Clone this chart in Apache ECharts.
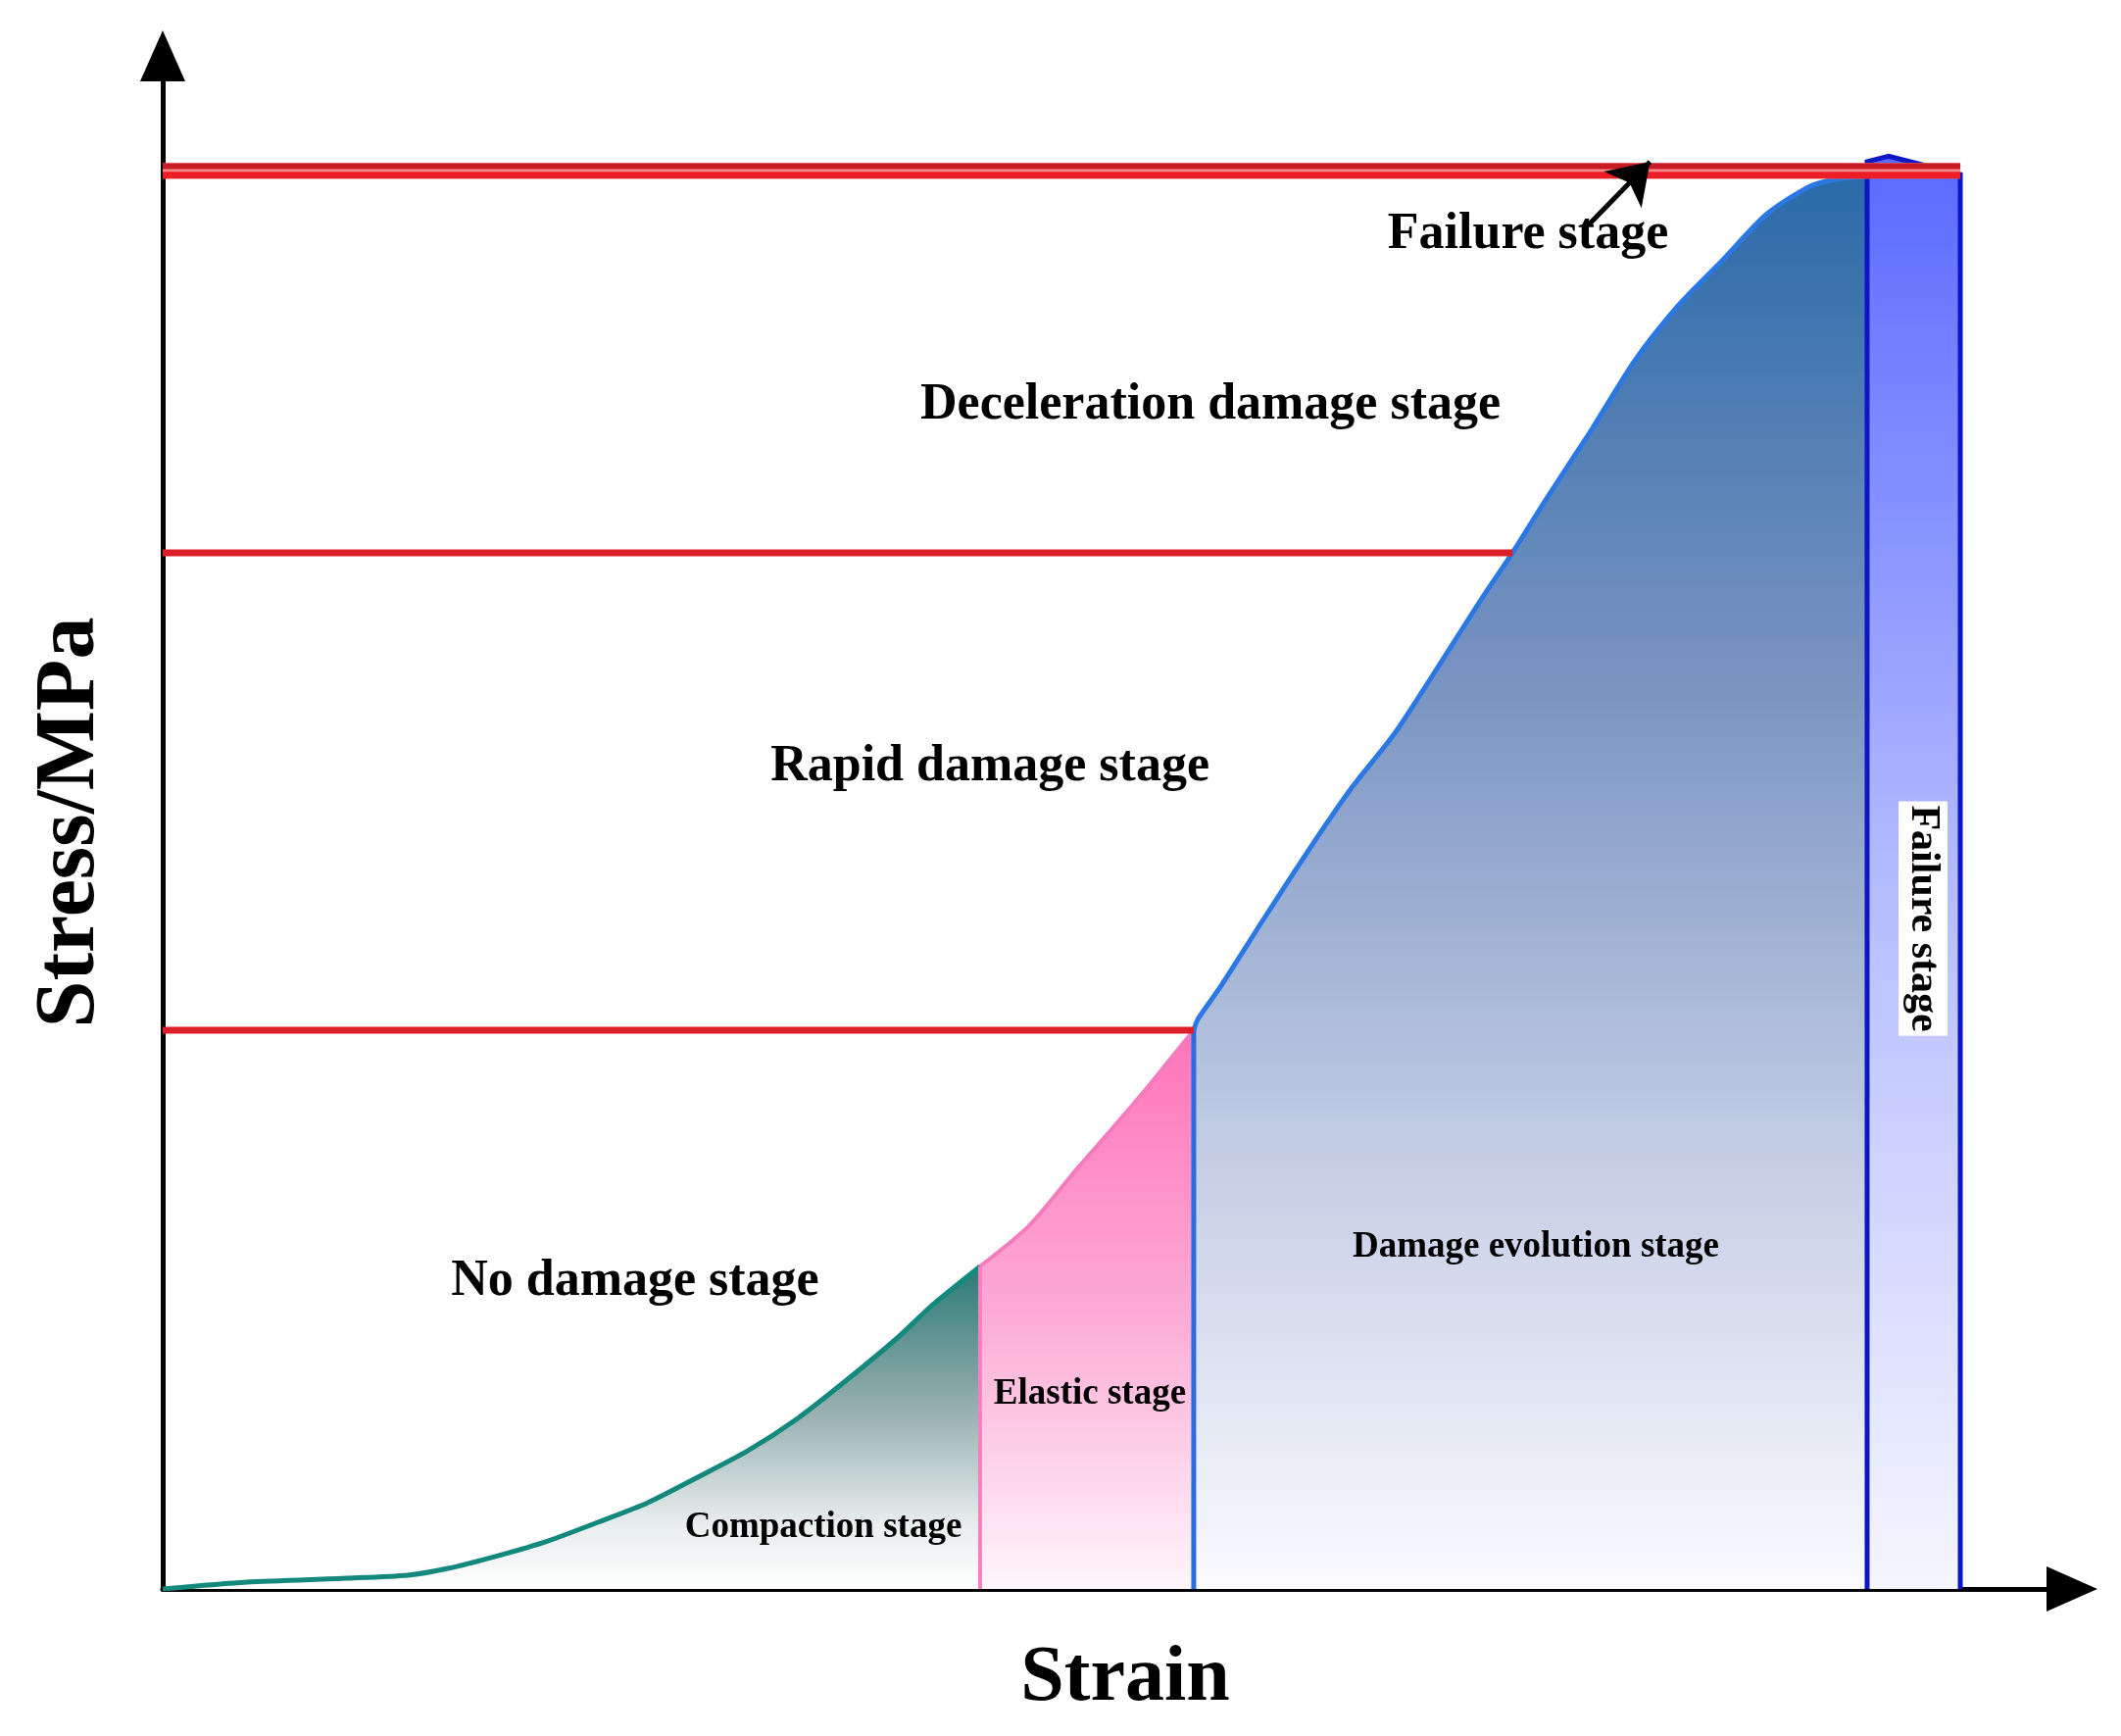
<!DOCTYPE html>
<html>
<head>
<meta charset="utf-8">
<script src="https://cdn.jsdelivr.net/npm/echarts@6/dist/echarts.min.js"></script>
<style>
html,body{margin:0;padding:0;background:#fff;}
#chart{width:2164px;height:1771px;}
</style>
</head>
<body>
<div id="chart"></div>
<script>
// ---- data (arbitrary normalised units: strain 0-100, stress 0-100) ----
const compactionCurve = [
  [0, 0], [4.41, 0.45], [9.65, 0.70], [12.83, 0.90], [14.94, 1.34], [17.56, 2.17],
  [20.17, 3.13], [22.79, 4.35], [25.41, 5.63], [28.03, 7.29], [30.65, 9.02],
  [33.26, 11.13], [35.88, 13.68], [38.50, 16.40], [40.30, 18.50], [42.81, 21.04]
];
const elasticCurve = [
  [42.81, 21.04], [45.38, 23.70], [47.95, 27.50], [49.64, 29.90], [51.39, 32.45],
  [52.57, 34.25], [54.00, 36.45]
];
const damageCurve = [
  [54.00, 36.45], [54.21, 37.15], [55.39, 39.26], [57.65, 43.67], [59.96, 48.08],
  [62.22, 52.17], [64.53, 55.82], [66.84, 60.23], [69.10, 64.64], [70.69, 67.58],
  [72.54, 71.23], [74.85, 75.64], [77.10, 80.12], [79.41, 83.76], [81.72, 86.70],
  [83.98, 89.64], [86.29, 91.50], [87.89, 92.01], [89.27, 92.14]
];
const failureBlock = [
  [89.27, 0], [89.27, 93.10], [90.40, 93.45], [94.15, 92.26], [94.15, 0]
];
const redLevels = [92.50, 67.58, 36.45];
const redEnds = [94.15, 70.69, 54.00];
const arrowFrom = [74.70, 89.00];
const arrowTo = [77.90, 93.10];
const stageLabels = [
  { text: 'Failure stage', pos: [71.51, 88.30], size: 52, rotate: 0, boxed: false },
  { text: 'Deceleration damage stage', pos: [54.88, 77.17], size: 52, rotate: 0, boxed: false },
  { text: 'Rapid damage stage', pos: [43.33, 53.58], size: 52, rotate: 0, boxed: false },
  { text: 'No damage stage', pos: [24.74, 20.01], size: 52, rotate: 0, boxed: false },
  { text: 'Compaction stage', pos: [34.60, 4.03], size: 37, rotate: 0, boxed: false },
  { text: 'Elastic stage', pos: [48.56, 12.72], size: 37, rotate: 0, boxed: false },
  { text: 'Damage evolution stage', pos: [71.92, 22.31], size: 37, rotate: 0, boxed: false },
  { text: 'Failure stage', pos: [92.20, 43.73], size: 42, rotate: -90, boxed: true }
];
const xName = 'Strain';
const yName = 'Stress/MPa';

// ---- chart ----
const FONT = '"Liberation Serif", "Times New Roman", serif';
const chart = echarts.init(document.getElementById('chart'), null, { renderer: 'canvas' });

function grad(stops) {
  return new echarts.graphic.LinearGradient(0, 0, 0, 1,
    stops.map(s => ({ offset: s[0], color: s[1] })));
}

function areaSeries(name, data, lineColor, lineWidth, stops) {
  return {
    name, type: 'line', data, showSymbol: false, smooth: 0.25, z: 3,
    lineStyle: { color: lineColor, width: lineWidth },
    areaStyle: { color: grad(stops), opacity: 1 }
  };
}

function plainLine(name, data, color, width, z) {
  return {
    name, type: 'line', data, showSymbol: false, z: z || 4,
    lineStyle: { color, width, cap: 'butt' }
  };
}

const series = [];
series.push(areaSeries('compaction', compactionCurve, '#13887c', 5,
  [[0, '#2b7a76'], [0.45, '#98b0b0'], [0.8, '#e8eded'], [1, '#ffffff']]));
series.push(areaSeries('elastic', elasticCurve, '#f47cbd', 4,
  [[0, '#ff74bb'], [0.5, '#fcaad5'], [1, '#fff6fb']]));
series.push(areaSeries('damage', damageCurve, '#2b78e4', 5,
  [[0, '#2a6aa8'], [0.35, '#7893c1'], [0.7, '#c5cee5'], [1, '#fbfbff']]));
series.push({
  name: 'failure', type: 'line', data: failureBlock, showSymbol: false, z: 3,
  lineStyle: { color: '#0c16c4', width: 5, join: 'miter' },
  areaStyle: { color: grad([[0, '#5a6aff'], [0.5, '#b3bbff'], [1, '#f6f6ff']]), opacity: 1 }
});
// stage dividers built from curve end points
const pinkEnd = compactionCurve[compactionCurve.length - 1];
const blueEnd = damageCurve[0];
series.push(plainLine('pinkDivider', [[pinkEnd[0], 0], pinkEnd], '#f77fc0', 4));
series.push(plainLine('blueDivider', [[blueEnd[0], 0], blueEnd], '#2a6de0', 5));

// red stage boundaries
series.push(plainLine('redTopGlow', [[0, redLevels[0]], [redEnds[0], redLevels[0]]], '#f5868a', 16, 5));
series.push(plainLine('redTopA', [[0, redLevels[0] + 0.3], [redEnds[0], redLevels[0] + 0.3]], '#c81b23', 6, 6));
series.push(plainLine('redTopB', [[0, redLevels[0] - 0.29], [redEnds[0], redLevels[0] - 0.29]], '#ee1d25', 7, 6));
for (let i = 1; i < redLevels.length; i++) {
  series.push(plainLine('red' + i, [[0, redLevels[i]], [redEnds[i], redLevels[i]]], '#df1f27', 7, 5));
}

// arrow annotation
series.push({
  name: 'arrow', type: 'line', data: [], z: 20,
  markLine: {
    silent: true, animation: false, z: 20,
    symbol: ['none', 'arrow'], symbolSize: 40,
    label: { show: false },
    itemStyle: { color: '#000' },
    lineStyle: { color: '#000', width: 5, type: 'solid', opacity: 1 },
    data: [[{ coord: arrowFrom }, { coord: arrowTo }]]
  }
});

// stage labels
series.push({
  name: 'labels', type: 'scatter', symbolSize: 0, z: 10,
  itemStyle: { opacity: 1 },
  data: stageLabels.map(l => ({
    value: l.pos,
    label: {
      show: true, position: 'inside', formatter: l.text,
      fontFamily: FONT, fontWeight: 'bold', fontSize: l.size, color: '#000',
      textBorderWidth: 0, opacity: 1,
      rotate: l.rotate,
      backgroundColor: l.boxed ? '#ffffff' : 'transparent',
      padding: l.boxed ? [4, 4] : 0
    }
  }))
});

chart.setOption({
  animation: false,
  backgroundColor: '#ffffff',
  grid: { left: 166, right: 50, top: 57, bottom: 150, containLabel: false },
  xAxis: {
    type: 'value', min: 0, max: 100,
    name: xName, nameLocation: 'middle', nameGap: 52,
    nameTextStyle: { fontFamily: FONT, fontWeight: 'bold', fontSize: 80, color: '#000', verticalAlign: 'top', padding: [0, 0, 0, 16] },
    axisLine: { show: true, lineStyle: { color: '#000', width: 5 }, symbol: ['none', 'triangle'], symbolSize: [46, 52] },
    axisTick: { show: false }, axisLabel: { show: false }, splitLine: { show: false }
  },
  yAxis: {
    type: 'value', min: 0, max: 100,
    name: yName, nameLocation: 'middle', nameGap: 50,
    nameTextStyle: { fontFamily: FONT, fontWeight: 'bold', fontSize: 86, color: '#000' },
    axisLine: { show: true, lineStyle: { color: '#000', width: 5 }, symbol: ['none', 'triangle'], symbolSize: [46, 52] },
    axisTick: { show: false }, axisLabel: { show: false }, splitLine: { show: false }
  },
  series
});
</script>
</body>
</html>
